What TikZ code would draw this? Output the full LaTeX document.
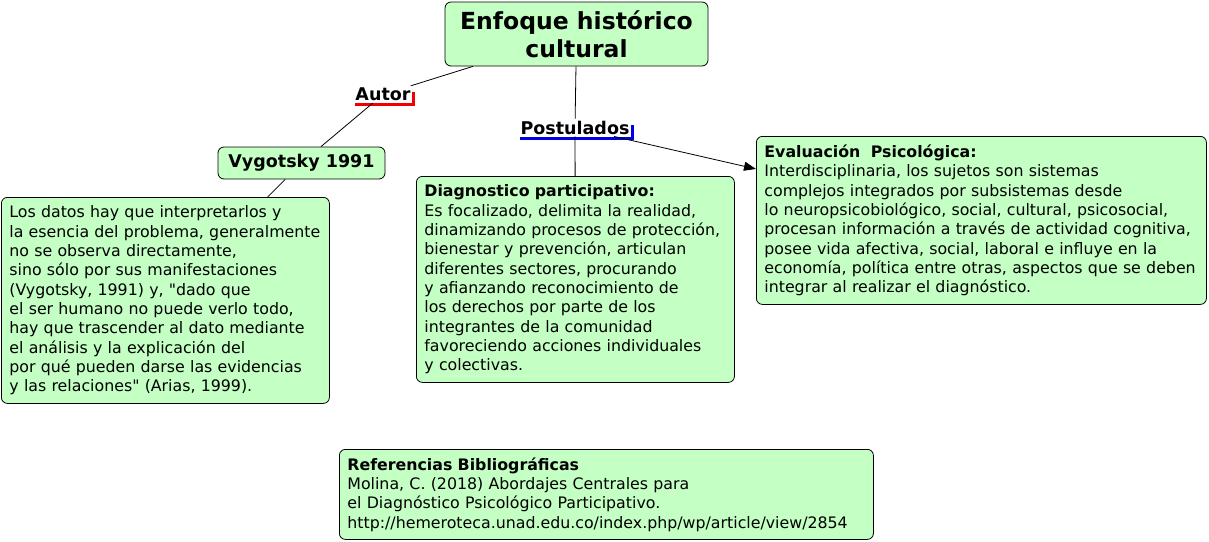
\documentclass[tikz,border=0pt]{standalone}
\usepackage{fontspec}
\setmainfont{DejaVu Sans}
\usepackage{tikz}
\usetikzlibrary{arrows.meta}
\definecolor{conceptgreen}{RGB}{196, 255, 196}
\definecolor{linkred}{RGB}{240, 0, 0}
\definecolor{linkblue}{RGB}{0, 0, 230}
\tikzstyle{concept} = [
    draw=black,
    fill=conceptgreen,
    rounded corners=6pt,
    line width=0.8pt,
    inner sep=0pt
]
\tikzstyle{textbox} = [
    concept,
    anchor=north west,
    align=left,
    inner xsep=8pt,
    font=\fontsize{15.8}{19.3}\selectfont
]
\tikzstyle{linkword} = [
    font=\bfseries\fontsize{17.5}{20}\selectfont,
    inner sep=2pt
]
\tikzstyle{link} = [
    line width=0.8pt
]
\tikzstyle{arrow} = [
    link,
    -{Triangle[length=12pt, width=9pt]}
]

\begin{document}
\begin{tikzpicture}[x=1pt, y=-1pt]
        \useasboundingbox (0,0) rectangle (1209,541);

        % Main concept
        \node[concept, minimum width=263pt, minimum height=64pt, align=center,
              font=\bfseries\fontsize{23.5}{28}\selectfont] (title) at (576.5,34)
            {Enfoque histórico\\cultural};

        % Linking words
        \node[linkword] (autor) at (383,94.5) {Autor};
        \node[linkword] (postulados) at (575,127.5) {Postulados};

        % Author
        \node[concept, minimum width=167pt, minimum height=32pt,
              font=\bfseries\fontsize{17.5}{20}\selectfont] (vygotsky) at (301.5,163)
            {Vygotsky 1991};

        % Concept boxes
        \node[textbox, text width=312pt, minimum height=206pt] (datos) at (1,197)
            {Los datos hay que interpretarlos y\\
             la esencia del problema, generalmente\\
             no se observa directamente,\\
             sino sólo por sus manifestaciones\\
             (Vygotsky, 1991) y, \textquotedbl dado que\\
             el ser humano no puede verlo todo,\\
             hay que trascender al dato mediante\\
             el análisis y la explicación del\\
             por qué pueden darse las evidencias\\
             y las relaciones\textquotedbl{} (Arias, 1999).};

        \node[textbox, text width=302pt, minimum height=206pt] (diagnostico) at (416,176)
            {{\bfseries Diagnostico participativo:}\\
             Es focalizado, delimita la realidad,\\
             dinamizando procesos de protección,\\
             bienestar y prevención, articulan\\
             diferentes sectores, procurando\\
             y afianzando reconocimiento de\\
             los derechos por parte de los\\
             integrantes de la comunidad\\
             favoreciendo acciones individuales\\
             y colectivas.};

        \node[textbox, text width=434pt, minimum height=168pt] (evaluacion) at (756,136)
            {{\bfseries Evaluación~ Psicológica:}\\
             Interdisciplinaria, los sujetos son sistemas\\
             complejos integrados por subsistemas desde\\
             lo neuropsicobiológico, social, cultural, psicosocial,\\
             procesan información a través de actividad cognitiva,\\
             posee vida afectiva, social, laboral e influye en la\\
             economía, política entre otras, aspectos que se deben\\
             integrar al realizar el diagnóstico.};

        \node[textbox, text width=518pt, minimum height=90pt] (referencias) at (339,449)
            {{\bfseries Referencias Bibliográficas}\\
             Molina, C. (2018) Abordajes Centrales para\\
             el Diagnóstico Psicológico Participativo.\\
             http://hemeroteca.unad.edu.co/index.php/wp/article/view/2854};

        % Underlines of the linking words
        \draw[linkred, line width=3pt]
            ([xshift=2pt, yshift=-4pt]autor.base west) -- ([xshift=1pt, yshift=-4pt]autor.base east)
            -- ([xshift=1pt, yshift=9pt]autor.base east);
        \draw[linkblue, line width=3pt]
            ([xshift=2pt, yshift=-4pt]postulados.base west) -- ([xshift=1pt, yshift=-4pt]postulados.base east)
            -- ([xshift=1pt, yshift=9pt]postulados.base east);

        % Connectors
        \draw[link] (title) -- (autor);
        \draw[link] (autor) -- (vygotsky);
        \draw[link] (vygotsky) -- (datos);
        \draw[link] (title) -- (postulados);
        \draw[link] (postulados) -- (diagnostico);
        \draw[arrow] (postulados) -- (evaluacion);
    \end{tikzpicture}
\end{document}
